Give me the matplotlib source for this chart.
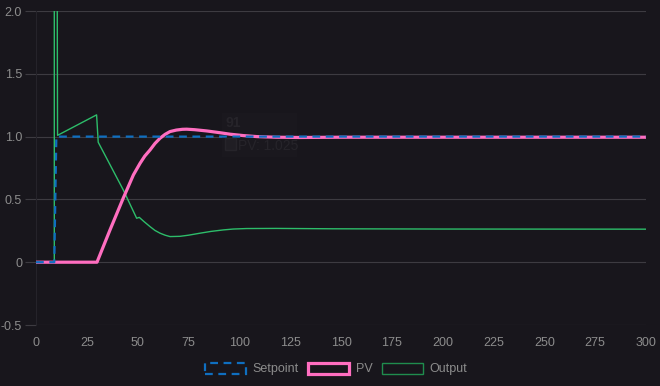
import matplotlib
matplotlib.use("Agg")
import matplotlib.pyplot as plt
from matplotlib.patches import Patch, Rectangle

# breakpoints
setpoint_t = [0, 9, 10, 300]
setpoint_v = [0, 0, 1.0, 1.0]

pv_t = [0, 30, 36.4, 42.9, 47.9, 51.2, 53.5, 56.1, 58.5, 61, 63.5, 65.9, 69, 72, 74.1, 78,
        84, 90, 95.5, 102, 108.6, 118, 130, 150, 300]
pv_v = [0, 0, 0.257, 0.51, 0.695, 0.788, 0.845, 0.894, 0.945, 0.987, 1.018, 1.04, 1.052, 1.058, 1.059, 1.055,
        1.045, 1.032, 1.019, 1.008, 1.0, 0.995, 0.993, 0.995, 0.995]

output_t = [0, 9, 9, 10.6, 29.8, 30.6, 42.9, 49.5, 50.8, 53, 56.1, 58.5, 61, 63.5, 65.9, 70.8, 75, 80.7,
            86, 92.1, 97, 103.6, 118, 146, 200, 300]
output_v = [0, 0, 12, 1.01, 1.173, 0.955, 0.576, 0.35, 0.357, 0.325, 0.283, 0.253, 0.231, 0.215, 0.204, 0.206, 0.215, 0.231,
            0.245, 0.257, 0.264, 0.268, 0.269, 0.266, 0.264, 0.263]

x_ticks = list(range(0, 301, 25))
y_ticks = [-0.5, 0, 0.5, 1.0, 1.5, 2.0]
y_labels = ["-0.5", "0", "0.5", "1.0", "1.5", "2.0"]

BG = "#18161c"
GRID = "#3d3b41"
TEXT = "#8c8c8c"
BLUE = "#0f6fc0"
PINK = "#ff6ec0"
GREEN = "#2dbd6a"
FAINT = "#26242a"

plt.rcParams["font.family"] = ["Liberation Sans", "DejaVu Sans"]

fig = plt.figure(figsize=(6.6, 3.86), dpi=100, facecolor=BG)
ax = fig.add_axes([36 / 660, 61 / 386, 610 / 660, 314 / 386], facecolor=BG)

ax.plot(output_t, output_v, color=GREEN, linewidth=1.0, zorder=3)
ax.plot(pv_t, pv_v, color=PINK, linewidth=2.3, solid_joinstyle="round", zorder=4)
ax.plot(setpoint_t, setpoint_v, color=BLUE, linewidth=1.6, linestyle=(0, (3.5, 2.5)), zorder=5)

ax.set_xlim(0, 300)
ax.set_ylim(-0.5, 2.0)
ax.set_xticks(x_ticks)
ax.set_yticks(y_ticks)
ax.set_yticklabels(y_labels)
ax.grid(axis="y", color=GRID, linewidth=0.8)
ax.set_axisbelow(True)
for side in ["top", "right", "bottom"]:
    ax.spines[side].set_visible(False)
ax.spines["left"].set_color("#25232a")
ax.tick_params(axis="y", colors=GRID, length=8, width=0.8, labelcolor=TEXT, labelsize=9, pad=2)
ax.tick_params(axis="x", length=0, labelcolor=TEXT, labelsize=9, pad=9)

# faded tooltip left over in the capture
ax.add_patch(Rectangle((91.5, 0.835), 37, 0.35, facecolor="#1a181e", edgecolor="none", zorder=2))
ax.text(93, 1.075, "91", color=FAINT, fontsize=10, fontweight="bold", zorder=6)
ax.add_patch(Rectangle((92.8, 0.89), 5.6, 0.095, facecolor="#201e24", edgecolor=FAINT, zorder=6))
ax.text(99.5, 0.895, "PV: 1.025", color=FAINT, fontsize=10, zorder=6)

handles = [
    Patch(facecolor=BG, edgecolor=BLUE, linewidth=1.6, linestyle=(0, (3.5, 2.5)), label="Setpoint"),
    Patch(facecolor=BG, edgecolor=PINK, linewidth=2.3, label="PV"),
    Patch(facecolor=BG, edgecolor="#1f8d4e", linewidth=1.0, label="Output"),
]
fig.legend(handles=handles, loc="center", bbox_to_anchor=(0.5 + 6 / 660, 1 - 369 / 386), ncol=3,
           frameon=False, fontsize=9, handlelength=3.3, handleheight=1.0,
           handletextpad=0.5, columnspacing=0.75, labelcolor=TEXT)

fig.savefig("out.png", dpi=100, facecolor=BG)
